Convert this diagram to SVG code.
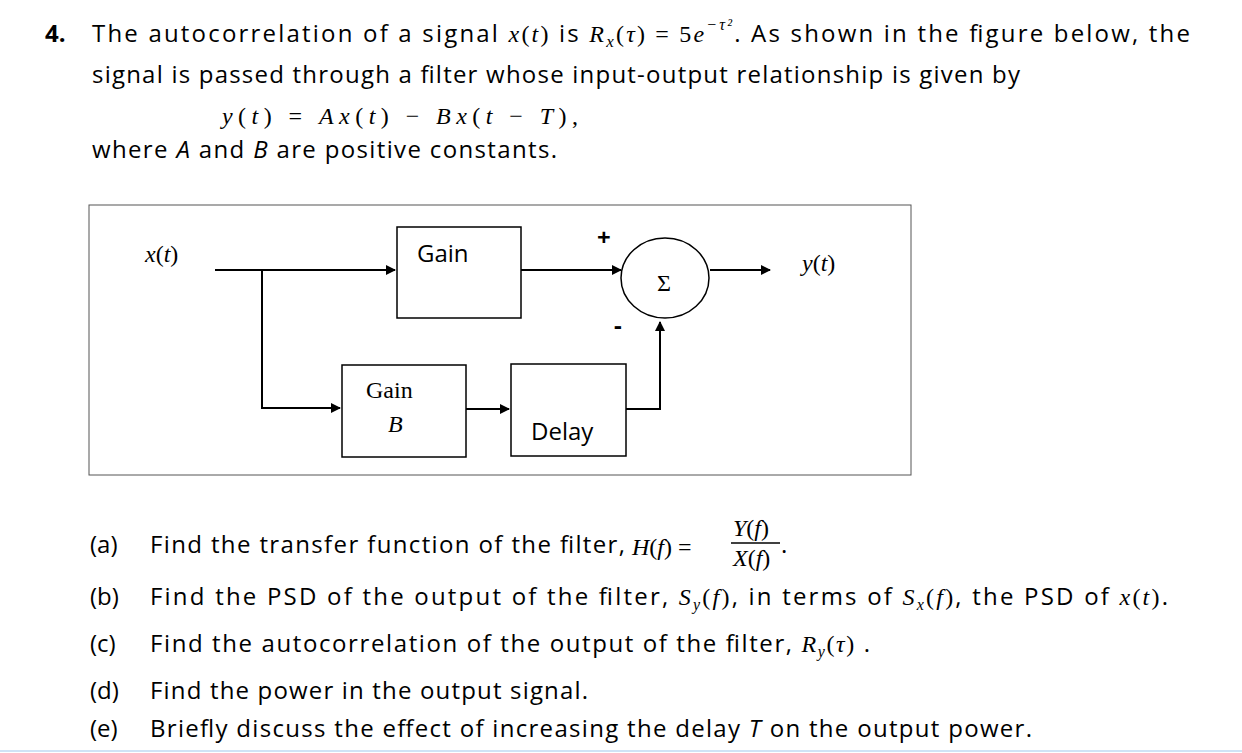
<svg xmlns="http://www.w3.org/2000/svg" width="1242" height="753" viewBox="0 0 1242 753">
<style>
.t{font-family:"Open Sans","Liberation Sans",sans-serif;font-size:24px;fill:#000}
.m{font-family:"Liberation Serif",serif;font-style:italic}
.r{font-family:"Liberation Serif",serif}
.box{fill:#fff;stroke:#000;stroke-width:1.5}
.ln{fill:none;stroke:#000;stroke-width:2}
</style>
<defs><marker id="a" markerWidth="10" markerHeight="10" refX="9" refY="5" orient="auto" markerUnits="userSpaceOnUse"><path d="M0,0L10,5L0,10z"/></marker></defs>
<rect width="1242" height="753" fill="#fff"/>
<text class="t" x="45" y="42"><tspan font-weight="bold">4.</tspan></text>
<text class="t" x="92" y="42" textLength="1098">The autocorrelation of a signal <tspan class="m">x</tspan><tspan class="r">(</tspan><tspan class="m">t</tspan><tspan class="r">)</tspan> is <tspan class="m">R</tspan><tspan class="m" font-size="17" dy="5">x</tspan><tspan class="r" dy="-5">(</tspan><tspan class="m">τ</tspan><tspan class="r">) = 5</tspan><tspan class="m">e</tspan><tspan class="m" font-size="16" dy="-12">−τ²</tspan><tspan dy="12">. As shown in the figure below, the</tspan></text>
<text class="t" x="92" y="83" textLength="928">signal is passed through a filter whose input-output relationship is given by</text>
<text class="t m" x="222" y="124" font-size="27" textLength="356">y<tspan class="r" font-style="normal">(</tspan>t<tspan class="r" font-style="normal">) = </tspan>Ax<tspan class="r" font-style="normal">(</tspan>t<tspan class="r" font-style="normal">) − </tspan>Bx<tspan class="r" font-style="normal">(</tspan>t<tspan class="r" font-style="normal"> − </tspan>T<tspan class="r" font-style="normal">),</tspan></text>
<text class="t" x="92" y="158" textLength="465">where <tspan font-style="italic">A</tspan> and <tspan font-style="italic">B</tspan> are positive constants.</text>
<rect x="89" y="205" width="822" height="270" fill="none" stroke="#555" stroke-width="1"/>
<g id="connectors">
<path class="ln" d="M215,270H395" marker-end="url(#a)"/>
<path class="ln" d="M262,270V408H340" marker-end="url(#a)"/>
<path class="ln" d="M521,270H621" marker-end="url(#a)"/>
<path class="ln" d="M466,409H509" marker-end="url(#a)"/>
<path class="ln" d="M626,409H660V322" marker-end="url(#a)"/>
<path class="ln" d="M710,270H770" marker-end="url(#a)"/>
</g>
<g id="gainA"><rect class="box" x="397" y="227" width="124" height="91"/><text class="t" x="417" y="262" font-size="22">Gain</text></g>
<g id="gainB"><rect class="box" x="342" y="365" width="124" height="92"/><text class="t r" x="366" y="398" font-size="22">Gain</text><text class="t m" x="388" y="432" font-size="24">B</text></g>
<g id="delay"><rect class="box" x="511" y="364" width="115" height="92"/><text class="t" x="531" y="440" font-size="22">Delay</text></g>
<g id="sum"><ellipse cx="665" cy="278" rx="44" ry="40" class="box"/><text class="t r" x="657" y="291" font-size="18">Σ</text></g>
<text class="t" x="597" y="246" font-weight="bold" font-size="24">+</text>
<text class="t" x="614" y="334" font-weight="bold" font-size="24">-</text>
<text class="t m" x="145" y="262" font-size="26">x<tspan font-style="normal">(</tspan>t<tspan font-style="normal">)</tspan></text>
<text class="t m" x="802" y="271" font-size="26">y<tspan font-style="normal">(</tspan>t<tspan font-style="normal">)</tspan></text>
<text class="t" x="90" y="553">(a)</text>
<text class="t" x="150" y="553" textLength="475">Find the transfer function of the filter,</text>
<text class="t m" x="632" y="555" font-size="27">H<tspan class="r" font-style="normal">(</tspan>f<tspan class="r" font-style="normal">) =</tspan></text>
<text class="t m" x="733" y="536" font-size="16">Y<tspan font-style="normal">(</tspan>f<tspan font-style="normal">)</tspan></text>
<line x1="731" y1="543" x2="780" y2="543" stroke="#000" stroke-width="1.5"/>
<text class="t m" x="733" y="566" font-size="16">X<tspan font-style="normal">(</tspan>f<tspan font-style="normal">)</tspan></text>
<text class="t" x="781" y="553">.</text>
<text class="t" x="90" y="605">(b)</text>
<text class="t" x="150" y="605" textLength="1018">Find the PSD of the output of the filter, <tspan class="m">S</tspan><tspan class="m" font-size="16" dy="5">y</tspan><tspan class="r" dy="-5">(</tspan><tspan class="m">f</tspan><tspan class="r">)</tspan>, in terms of <tspan class="m">S</tspan><tspan class="m" font-size="16" dy="5">x</tspan><tspan class="r" dy="-5">(</tspan><tspan class="m">f</tspan><tspan class="r">)</tspan>, the PSD of <tspan class="m">x</tspan><tspan class="r">(</tspan><tspan class="m">t</tspan><tspan class="r">)</tspan>.</text>
<text class="t" x="90" y="652">(c)</text>
<text class="t" x="150" y="652" textLength="720">Find the autocorrelation of the output of the filter, <tspan class="m">R</tspan><tspan class="m" font-size="16" dy="5">y</tspan><tspan class="r" dy="-5">(</tspan><tspan class="m">τ</tspan><tspan class="r">)</tspan> .</text>
<text class="t" x="90" y="699">(d)</text>
<text class="t" x="150" y="699" textLength="438">Find the power in the output signal.</text>
<text class="t" x="90" y="737">(e)</text>
<text class="t" x="150" y="737" textLength="882">Briefly discuss the effect of increasing the delay <tspan font-style="italic">T</tspan> on the output power.</text>
<line x1="0" y1="751" x2="1242" y2="751" stroke="#cfe3f5" stroke-width="2"/>
</svg>
